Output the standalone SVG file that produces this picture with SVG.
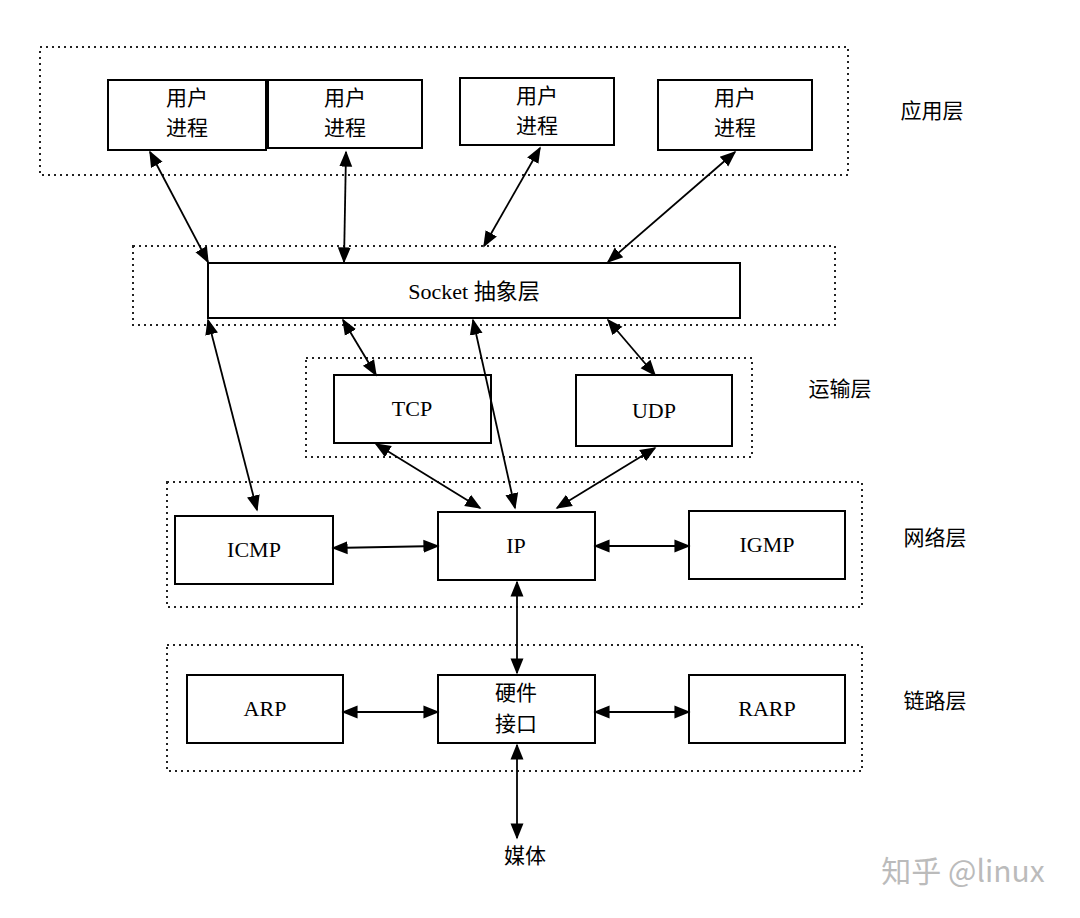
<svg xmlns="http://www.w3.org/2000/svg" width="1080" height="918" viewBox="0 0 1080 918">
<defs>
<marker id="a" viewBox="0 0 10 10" refX="9" refY="5" markerWidth="9" markerHeight="9" orient="auto-start-reverse"><path d="M0,1 L10,5 L0,9 z" fill="#000"/></marker>
<style>
.g{fill:none;stroke:#222;stroke-width:2;stroke-dasharray:2 4}
.b{fill:#fff;stroke:#000;stroke-width:2}
.t{font-family:"Liberation Serif","Noto Sans CJK SC",serif;font-size:22px;text-anchor:middle;fill:#000}
.l{font-family:"Noto Sans CJK SC",sans-serif;font-size:21px;text-anchor:middle;fill:#000}
.c line{stroke:#000;stroke-width:1.8;marker-start:url(#a);marker-end:url(#a)}
</style>
</defs>
<rect width="1080" height="918" fill="#fff"/>
<rect class="g" x="40" y="47" width="808" height="128"/>
<rect class="g" x="133" y="246" width="702" height="79"/>
<rect class="g" x="306" y="358" width="446" height="99"/>
<rect class="g" x="167" y="482" width="695" height="125"/>
<rect class="g" x="167" y="645" width="695" height="126"/>
<g id="p1"><rect class="b" x="108" y="80" width="158" height="70"/><text class="l" x="187" y="105">用户</text><text class="l" x="187" y="135">进程</text></g>
<g id="p2"><rect class="b" x="268" y="80" width="154" height="68"/><text class="l" x="345" y="105">用户</text><text class="l" x="345" y="135">进程</text></g>
<g id="p3"><rect class="b" x="460" y="78" width="154" height="67"/><text class="l" x="537" y="103">用户</text><text class="l" x="537" y="133">进程</text></g>
<g id="p4"><rect class="b" x="658" y="80" width="154" height="70"/><text class="l" x="735" y="105">用户</text><text class="l" x="735" y="135">进程</text></g>
<g id="sock"><rect class="b" x="208" y="263" width="532" height="55"/><text class="t" x="474" y="299">Socket 抽象层</text></g>
<g id="tcp"><rect class="b" x="334" y="375" width="157" height="68"/><text class="t" x="412" y="416">TCP</text></g>
<g id="udp"><rect class="b" x="576" y="375" width="156" height="71"/><text class="t" x="654" y="418">UDP</text></g>
<g id="icmp"><rect class="b" x="175" y="516" width="158" height="68"/><text class="t" x="254" y="557">ICMP</text></g>
<g id="ip"><rect class="b" x="438" y="512" width="157" height="68"/><text class="t" x="516" y="553">IP</text></g>
<g id="igmp"><rect class="b" x="689" y="511" width="156" height="68"/><text class="t" x="767" y="552">IGMP</text></g>
<g id="arp"><rect class="b" x="187" y="675" width="156" height="68"/><text class="t" x="265" y="716">ARP</text></g>
<g id="hw"><rect class="b" x="438" y="675" width="157" height="68"/><text class="l" x="516" y="700">硬件</text><text class="l" x="516" y="731">接口</text></g>
<g id="rarp"><rect class="b" x="689" y="675" width="156" height="68"/><text class="t" x="767" y="716">RARP</text></g>
<g id="media"><text class="l" x="525" y="863">媒体</text></g>
<text class="l" x="932" y="118">应用层</text>
<text class="l" x="840" y="396">运输层</text>
<text class="l" x="935" y="545">网络层</text>
<text class="l" x="935" y="708">链路层</text>
<text x="963" y="882" style="font-family:'Noto Sans CJK SC',sans-serif;font-size:30px;text-anchor:middle;fill:#bbb">知乎 @linux</text>
<g class="c">
<line x1="150" y1="152" x2="208" y2="262"/>
<line x1="346" y1="152" x2="344" y2="262"/>
<line x1="540" y1="148" x2="484" y2="246"/>
<line x1="735" y1="152" x2="608" y2="262"/>
<line x1="208" y1="320" x2="257" y2="510"/>
<line x1="343" y1="320" x2="376" y2="375"/>
<line x1="473" y1="320" x2="515" y2="508"/>
<line x1="608" y1="320" x2="655" y2="375"/>
<line x1="376" y1="444" x2="480" y2="508"/>
<line x1="655" y1="448" x2="557" y2="508"/>
<line x1="333" y1="548" x2="438" y2="546"/>
<line x1="595" y1="546" x2="689" y2="546"/>
<line x1="517" y1="582" x2="517" y2="673"/>
<line x1="343" y1="712" x2="438" y2="712"/>
<line x1="595" y1="712" x2="689" y2="712"/>
<line x1="517" y1="745" x2="517" y2="838"/>
</g>
</svg>
